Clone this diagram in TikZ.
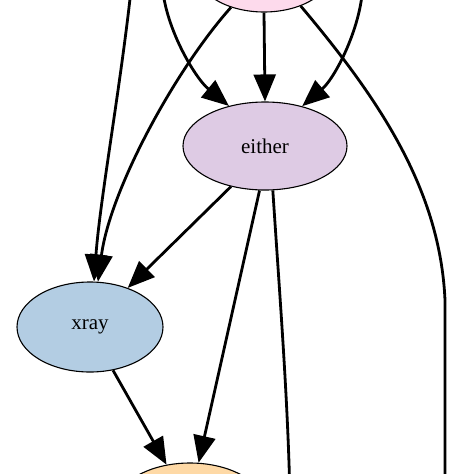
\documentclass[tikz,border=0pt]{standalone}
\usepackage{fontspec}
\setmainfont{Liberation Serif}
\usetikzlibrary{arrows.meta,shapes.geometric}
\definecolor{pinkc}{HTML}{FDDAEC}
\definecolor{lilacc}{HTML}{DECBE4}
\definecolor{bluec}{HTML}{B3CDE3}
\definecolor{peachc}{HTML}{FED9A6}
\begin{document}
\begin{tikzpicture}[x=1pt,y=-1pt,
  nd/.style={ellipse,draw=black,line width=1.1pt,inner sep=0pt,font=\fontsize{21}{25}\selectfont},
  edge/.style={line width=2.8pt,-{Triangle[length=27pt,width=22pt]}},
  plainedge/.style={line width=2.8pt}]
\useasboundingbox (0,0) rectangle (474,474);
\clip (0,0) rectangle (474,474);
% nodes
\node[nd,fill=pinkc,minimum width=140pt,minimum height=88pt] (top) at (264,-32) {};
\node[nd,fill=lilacc,minimum width=164pt,minimum height=88pt] (either) at (265,146) {either};
\node[nd,fill=bluec,minimum width=146pt,minimum height=90pt] (xray) at (90,327) {xray};
\node[nd,fill=peachc,minimum width=150pt,minimum height=88pt] (bottom) at (190,507) {};
% free ends
\coordinate (a0) at (131,-10);
\coordinate (b0) at (162,-20);
\coordinate (e0) at (363,-20);
\coordinate (fbend) at (445,300);
\coordinate (fend) at (445,500);
\coordinate (iend) at (290,500);
% edges
\draw[edge] (a0) .. controls (120,90) and (100,200) .. (xray.85);
\draw[edge] (top.230) .. controls (175,70) and (110,190) .. (xray.80);
\draw[edge] (b0) .. controls (163,25) and (195,78) .. (either.132);
\draw[edge] (top.south) -- (either.north);
\draw[edge] (e0) .. controls (363,25) and (335,78) .. (either.47);
\draw[plainedge] (top.314) .. controls (380,100) and (440,190) .. (fbend) -- (fend);
\draw[edge] (either.230) -- (xray.46);
\draw[edge] (either.263) -- (bottom.79);
\draw[plainedge] (either.280) .. controls (280,300) and (288,400) .. (iend);
\draw[edge] (xray.298) -- (bottom.119);
\end{tikzpicture}
\end{document}
